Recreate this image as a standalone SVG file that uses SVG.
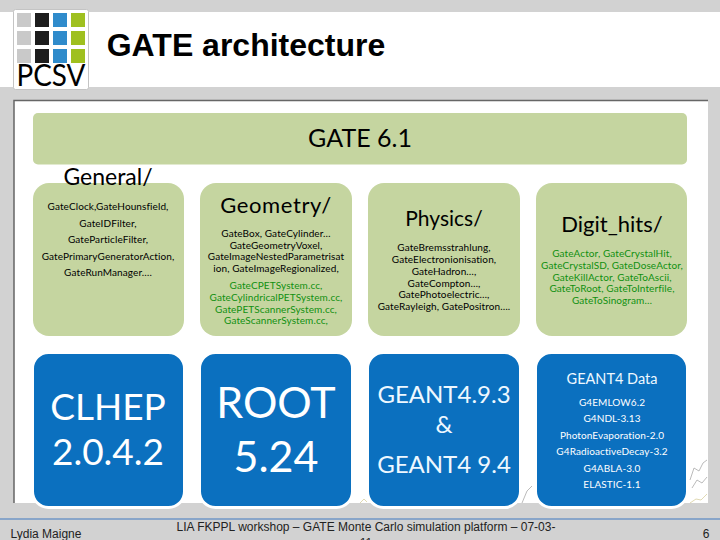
<svg xmlns="http://www.w3.org/2000/svg" width="720" height="540" viewBox="0 0 720 540">
<style>
text{font-family:"Lato","Open Sans","Liberation Sans",sans-serif;text-anchor:middle;fill:#000}
.a{font-family:"Liberation Sans",Arial,sans-serif}
.g{fill:#c5d5a0}
.b{fill:#0b70bf;stroke:#fff;stroke-width:3}
.s{font-size:10px;letter-spacing:.1px}
.gr{fill:#109010}
.w{fill:#fff}
.wt{fill:#eef8ff}
.f{font-size:12px;fill:#222}
</style>
<rect width="720" height="540" fill="#d2d2d2"/>
<rect x="0" y="12" width="720" height="75" fill="#fff"/>
<rect x="14" y="100" width="694" height="403" fill="#fff"/>
<path d="M14 503V100.500H708" fill="none" stroke="#666" stroke-width="1.500"/>
<line x1="0" y1="519" x2="720" y2="519" stroke="#3f78c0" stroke-width="1"/>
<g fill="none" stroke="#aaa" stroke-width="0.800">
<path d="M690 480l4-12 5 3 4-8 4-3M692 488l5-8 5 3 5-6M522 503l5-12 5-5"/>
<path d="M360 503l4-4 3 3M690 503l6-4 5 1 6-6" stroke="#d8cfa0"/>
</g>
<g id="logo">
<rect x="13.500" y="9.500" width="75" height="80" rx="2" fill="#fff" stroke="#c4c4c4"/>
<g fill="#c9c9c9"><rect x="17" y="13" width="14" height="14"/><rect x="17" y="31" width="14" height="14"/><rect x="17" y="49" width="14" height="14"/></g>
<g fill="#1d1d1d"><rect x="35" y="13" width="14" height="14"/><rect x="35" y="31" width="14" height="14"/><rect x="35" y="49" width="14" height="14"/></g>
<g fill="#2f8bcb"><rect x="53" y="13" width="14" height="14"/><rect x="53" y="31" width="14" height="14"/><rect x="53" y="49" width="14" height="14"/></g>
<g fill="#9fc01f"><rect x="71" y="13" width="14" height="14"/><rect x="71" y="31" width="14" height="14"/><rect x="71" y="49" width="14" height="14"/></g>
<text x="51" y="86" style="font-size:30px;font-family:'Lato',sans-serif" fill="#222" textLength="69" lengthAdjust="spacingAndGlyphs">PCSV</text>
</g>
<g id="title"><text class="a" x="246" y="56" style="font-size:32px;font-weight:bold">GATE architecture</text></g>
<g id="gate61"><rect class="g" x="33" y="113" width="654" height="51.500" rx="5"/><text x="360" y="147" style="font-size:25px">GATE 6.1</text></g>
<g id="general">
<rect class="g" x="33" y="183" width="151" height="153" rx="16"/>
<text x="108" y="185" style="font-size:23px">General/</text>
<text class="s" x="108" y="210">GateClock,GateHounsfield,</text>
<text class="s" x="108" y="227">GateIDFilter,</text>
<text class="s" x="108" y="243">GateParticleFilter,</text>
<text class="s" x="108" y="260">GatePrimaryGeneratorAction,</text>
<text class="s" x="108" y="276">GateRunManager….</text>
</g>
<g id="geometry">
<rect class="g" x="200" y="183" width="152" height="153" rx="16"/>
<text x="276" y="213" style="font-size:22px;letter-spacing:.6px">Geometry/</text>
<text class="s" x="276" y="237">GateBox, GateCylinder…</text>
<text class="s" x="276" y="248.500">GateGeometryVoxel,</text>
<text class="s" x="276" y="260">GateImageNestedParametrisat</text>
<text class="s" x="276" y="272">ion, GateImageRegionalized,</text>
<text class="s gr" x="276" y="289">GateCPETSystem.cc,</text>
<text class="s gr" x="276" y="301">GateCylindricalPETSystem.cc,</text>
<text class="s gr" x="276" y="313">GatePETScannerSystem.cc,</text>
<text class="s gr" x="276" y="324">GateScannerSystem.cc,</text>
</g>
<g id="physics">
<rect class="g" x="368" y="183" width="152" height="153" rx="16"/>
<text x="444" y="226" style="font-size:21px">Physics/</text>
<text class="s" x="444" y="251">GateBremsstrahlung,</text>
<text class="s" x="444" y="263">GateElectronionisation,</text>
<text class="s" x="444" y="275">GateHadron…,</text>
<text class="s" x="444" y="287">GateCompton…,</text>
<text class="s" x="444" y="298">GatePhotoelectric…,</text>
<text class="s" x="444" y="310">GateRayleigh, GatePositron….</text>
</g>
<g id="digit">
<rect class="g" x="536" y="183" width="151" height="153" rx="16"/>
<text x="612" y="232" style="font-size:22px">Digit_hits/</text>
<text class="s gr" x="612" y="257">GateActor, GateCrystalHit,</text>
<text class="s gr" x="612" y="269">GateCrystalSD, GateDoseActor,</text>
<text class="s gr" x="612" y="281">GateKillActor, GateToAscii,</text>
<text class="s gr" x="612" y="292">GateToRoot, GateToInterfile,</text>
<text class="s gr" x="612" y="304">GateToSinogram…</text>
</g>
<g id="clhep">
<rect class="b" x="32.500" y="352.500" width="152" height="155" rx="16"/>
<text class="w" x="108" y="420" style="font-size:37px">CLHEP</text>
<text class="w" x="108" y="465" style="font-size:37px">2.0.4.2</text>
</g>
<g id="rootbox">
<rect class="b" x="199.500" y="352.500" width="153" height="155" rx="16"/>
<text class="w" x="276" y="418" style="font-size:43px">ROOT</text>
<text class="w" x="276" y="472" style="font-size:43px">5.24</text>
</g>
<g id="geant4">
<rect class="b" x="367.500" y="352.500" width="153" height="155" rx="16"/>
<text class="wt" x="444" y="403" style="font-size:24px">GEANT4.9.3</text>
<text class="wt" x="444" y="433" style="font-size:24px">&amp;</text>
<text class="wt" x="444" y="473" style="font-size:24px">GEANT4 9.4</text>
</g>
<g id="data">
<rect class="b" x="535.500" y="352.500" width="152" height="155" rx="16"/>
<text class="wt" x="612" y="384" style="font-size:14.500px">GEANT4 Data</text>
<text class="s w" x="612" y="406">G4EMLOW6.2</text>
<text class="s w" x="612" y="422">G4NDL-3.13</text>
<text class="s w" x="612" y="439">PhotonEvaporation-2.0</text>
<text class="s w" x="612" y="455">G4RadioactiveDecay-3.2</text>
<text class="s w" x="612" y="472">G4ABLA-3.0</text>
<text class="s w" x="612" y="488">ELASTIC-1.1</text>
</g>
<g id="footer">
<text class="a f" x="366" y="531">LIA FKPPL workshop – GATE Monte Carlo simulation platform – 07-03-</text>
<text class="a f" x="46" y="538">Lydia Maigne</text>
<text class="a f" x="366" y="547">11</text>
<text class="a f" x="706" y="538">6</text>
</g>
</svg>
